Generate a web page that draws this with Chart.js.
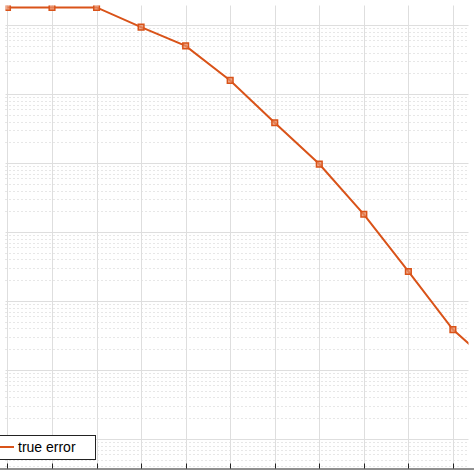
<!DOCTYPE html>
<html>
<head>
<meta charset="utf-8">
<script src="https://cdn.jsdelivr.net/npm/chart.js@4"></script>
<style>
  body { margin: 0; background: #fff; }
  #wrap { position: relative; width: 474px; height: 474px; }
  #legend {
    position: absolute; left: -1px; top: 435px; width: 95px; height: 23px;
    border: 1px solid #222; background: #fff; font-family: "Liberation Sans", Arial, sans-serif;
    font-size: 14px; line-height: 23px; color: #000;
  }
  #legend span.l { display: inline-block; width: 14px; height: 2px; background: #D95319; vertical-align: middle; margin: 0 4px 2px 0; }
</style>
</head>
<body>
<div id="wrap">
  <canvas id="myChart" width="474" height="474"></canvas>
  <div id="legend"><span class="l"></span>true error</div>
</div>
<script>
// iteration index and true error
const iterations = [0, 1, 2, 3, 4, 5, 6, 7, 8, 9, 10, 11];
const trueError = [1.81, 1.81, 1.81, 0.936, 0.501, 0.158, 0.0385, 0.00968, 0.00181, 2.68e-4, 3.85e-5, 1.03e-5];
const seriesLabel = 'true error';

const gridPlugin = {
  id: 'matlabGrid',
  beforeDatasetsDraw(chart) {
    const { ctx, chartArea: a, scales: { x, y } } = chart;
    ctx.save();
    ctx.lineWidth = 1;
    // horizontal grid: decades solid, in-between dotted
    for (let e = -7; e <= 1; e++) {
      for (let m = 1; m <= 9; m++) {
        const v = m * Math.pow(10, e);
        const py = Math.round(y.getPixelForValue(v)) + 0.5;
        if (py < a.top || py > a.bottom) continue;
        if (m === 1) { ctx.setLineDash([]); ctx.strokeStyle = '#dedede'; }
        else { ctx.setLineDash([1, 3]); ctx.strokeStyle = '#cfcfcf'; }
        ctx.beginPath(); ctx.moveTo(a.left, py); ctx.lineTo(a.right, py); ctx.stroke();
      }
    }
    ctx.setLineDash([]);
    ctx.strokeStyle = '#dedede';
    for (let i = 0; i <= 11; i++) {
      const px = Math.round(x.getPixelForValue(i)) + 0.5;
      if (px < a.left || px > a.right) continue;
      ctx.beginPath(); ctx.moveTo(px, a.top); ctx.lineTo(px, a.bottom); ctx.stroke();
    }
    ctx.restore();
  },
  afterDraw(chart) {
    const { ctx, chartArea: a, scales: { x } } = chart;
    ctx.save();
    ctx.strokeStyle = '#222';
    ctx.lineWidth = 1;
    ctx.beginPath(); ctx.moveTo(0, a.bottom + 0.5); ctx.lineTo(474, a.bottom + 0.5); ctx.stroke();
    for (let i = 0; i <= 11; i++) {
      const px = Math.round(x.getPixelForValue(i)) + 0.5;
      ctx.beginPath(); ctx.moveTo(px, a.bottom); ctx.lineTo(px, a.bottom - 5); ctx.stroke();
    }
    ctx.restore();
  }
};

const ctx = document.getElementById('myChart').getContext('2d');
new Chart(ctx, {
  type: 'line',
  data: {
    datasets: [{
      label: seriesLabel,
      data: iterations.map((it, i) => ({ x: it, y: trueError[i] })),
      borderColor: '#D95319',
      backgroundColor: 'rgba(232,140,100,0.75)',
      borderWidth: 2,
      pointStyle: 'rect',
      pointRadius: 4,
      pointBorderWidth: 1.5,
      pointBorderColor: '#D95319',
      tension: 0
    }]
  },
  options: {
    responsive: false,
    animation: false,
    devicePixelRatio: 1,
    layout: { padding: { left: 0, right: 0, top: 0, bottom: 4 } },
    plugins: { legend: { display: false }, tooltip: { enabled: false } },
    scales: {
      x: { type: 'linear', min: -0.044, max: 10.35, display: false },
      y: { type: 'logarithmic', min: 3.72e-7, max: 1.93, display: false }
    }
  },
  plugins: [gridPlugin]
});
</script>
</body>
</html>
